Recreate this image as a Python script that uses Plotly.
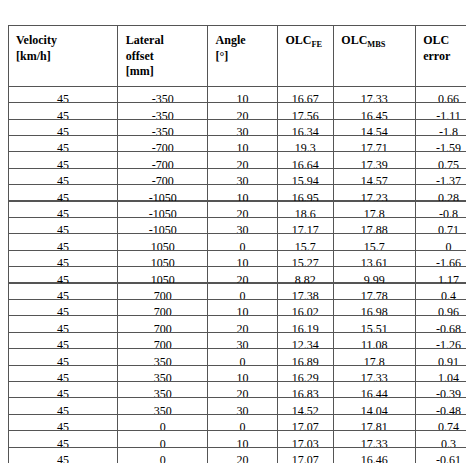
import plotly.graph_objects as go

headers = ["Velocity<br>[km/h]", "Lateral<br>offset<br>[mm]", "Angle<br>[°]",
           "OLC<sub>FE</sub>", "OLC<sub>MBS</sub>", "OLC<br>error"]
offset = [-350,-350,-350,-700,-700,-700,-1050,-1050,-1050,1050,1050,1050,700,700,700,700,350,350,350,350,0,0,0,0]
angle = [10,20,30,10,20,30,10,20,30,0,10,20,0,10,20,30,0,10,20,30,0,10,20,30]
velocity = [45]*len(angle)
olc_fe = ["16.67","17.56","16.34","19.3","16.64","15.94","16.95","18.6","17.17","15.7","15.27","8.82",
          "17.38","16.02","16.19","12.34","16.89","16.29","16.83","14.52","17.07","17.03","17.07","14.94"]
olc_mbs = ["17.33","16.45","14.54","17.71","17.39","14.57","17.23","17.8","17.88","15.7","13.61","9.99",
           "17.78","16.98","15.51","11.08","17.8","17.33","16.44","14.04","17.81","17.33","16.46","14.57"]
olc_err = ["0.66","-1.11","-1.8","-1.59","0.75","-1.37","0.28","-0.8","0.71","0","-1.66","1.17",
           "0.4","0.96","-0.68","-1.26","0.91","1.04","-0.39","-0.48","0.74","0.3","-0.61","-0.37"]

fig = go.Figure(go.Table(
    columnwidth=[110, 90, 70, 56, 82, 67],
    header=dict(values=["<b>"+h+"</b>" for h in headers], align="left", height=51,
                fill_color="white", line=dict(color="#555", width=1),
                font=dict(family="Liberation Serif", size=12, color="black")),
    cells=dict(values=[velocity, offset, angle, olc_fe, olc_mbs, olc_err], align="center", height=16.4,
               fill_color="white", line=dict(color="#555", width=1),
               font=dict(family="Liberation Serif", size=12, color="black")),
))
fig.update_layout(width=474, height=463, margin=dict(l=0, r=0, t=17, b=0),
                  paper_bgcolor="white")
fig.write_html("out.html")
